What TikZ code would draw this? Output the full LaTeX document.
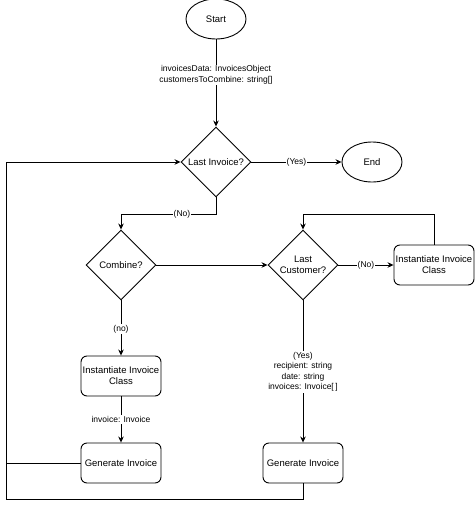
\documentclass[tikz,border=0pt]{standalone}
\usepackage{fontspec}
\setmainfont{Liberation Sans}
\usetikzlibrary{shapes.geometric,arrows.meta}

\begin{document}
\begin{tikzpicture}[x=1pt,y=-1pt]
  \tikzset{every node/.style={font=\fontsize{9.5}{11}\selectfont,align=center},
           terminal/.style={draw,ellipse,minimum width=60pt,minimum height=40pt,inner sep=0pt},
           decision/.style={draw,diamond,minimum width=70pt,minimum height=70pt,inner sep=0pt},
           process/.style={draw,rectangle,rounded corners=6pt,minimum width=80pt,minimum height=40pt,inner sep=0pt},
           edgelabel/.style={fill=white,inner sep=1pt,font=\fontsize{8.5}{10.5}\selectfont},
           flow/.style={line width=0.9pt,-{Stealth[length=6pt,width=5.5pt]}},
           every path/.style={line width=0.9pt}}
  \useasboundingbox (0,0) rectangle (474,506);
  \node[terminal] (start) at (216,19) {Start};
  \node[decision] (lastinvoice) at (216,162) {Last Invoice?};
  \node[terminal] (end) at (372,162) {End};
  \node[decision] (combine) at (121,265) {Combine?};
  \node[decision] (lastcustomer) at (303,265) {Last\\Customer?};
  \node[process] (instright) at (434,265) {Instantiate Invoice\\Class};
  \node[process] (instleft) at (121,376) {Instantiate Invoice\\Class};
  \node[process] (genleft) at (121,463) {Generate Invoice};
  \node[process] (genright) at (303,463) {Generate Invoice};
  \coordinate (nobend) at (216,214);
  \coordinate (custloop) at (434,214);
  \coordinate (loopleft) at (6,463);
  \coordinate (loopbottom) at (6,499);
  % main line
  \draw[flow] (start) -- (lastinvoice);
  \node[edgelabel] (startlabel) at (216,75) {invoicesData: InvoicesObject\\customersToCombine: string[]};
  \draw[flow] (lastinvoice) -- node[edgelabel] {(Yes)} (end);
  \draw[flow] (lastinvoice.south) -- (nobend) -| (combine.north);
  \node[edgelabel] (nolabel) at (182,214) {(No)};
  \draw[flow] (combine) -- (lastcustomer);
  \draw[flow] (lastcustomer) -- node[edgelabel] {(No)} (instright);
  \draw[flow] (instright.north) -- (custloop) -| (lastcustomer.north);
  \draw[flow] (combine) -- (instleft);
  \node[edgelabel] (combinelabel) at (121,329) {(no)};
  \draw[flow] (instleft) -- node[edgelabel] {invoice: Invoice} (genleft);
  \draw[flow] (lastcustomer) -- (genright);
  \node[edgelabel] (yeslabel) at (303,372) {(Yes)\\recipient: string\\date: string\\invoices: Invoice[\,]};
  % loops back
  \draw[flow] (genleft.west) -- (loopleft) |- (lastinvoice.west);
  \draw (genright.south) |- (loopbottom) -- (loopleft);
\end{tikzpicture}
\end{document}
